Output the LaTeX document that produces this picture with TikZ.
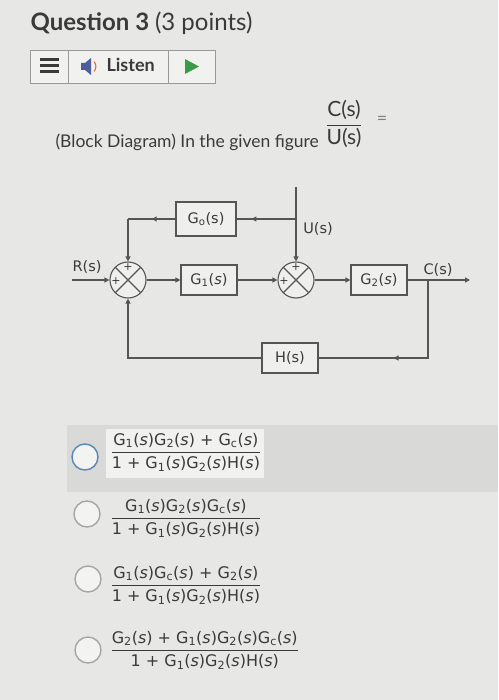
\documentclass[tikz,border=0pt]{standalone}
\usepackage{amsmath}
\usepackage{fontspec}
\setmainfont{Lato}
\newfontfamily\dejavu{DejaVu Sans}
\usetikzlibrary{arrows.meta,decorations.markings}
\definecolor{pagebg}{HTML}{E7E7E5}
\definecolor{bandcolor}{HTML}{D9D9D7}
\definecolor{inkcolor}{HTML}{3A3A3A}
\definecolor{linecolor}{HTML}{555555}
\definecolor{radioblue}{HTML}{5A86B8}
\definecolor{speakerblue}{HTML}{4F5C9E}
\definecolor{speakerorange}{HTML}{E0662A}
\definecolor{playgreen}{HTML}{3A9A48}
\newcommand{\Gs}[1]{G\textsubscript{#1}(\textit{s})}

\begin{document}
\begin{tikzpicture}[
    x=1pt, y=-1pt,
    line width=1.1pt,
    tip/.tip={Triangle[length=5pt,width=5pt]},
    sig/.style={draw=linecolor, -tip},
    wire/.style={draw=linecolor},
    midarrow/.style={postaction={decorate},
                     decoration={markings, mark=at position #1 with {\arrow{tip}}}},
    block/.style={rectangle, draw=linecolor, fill=white!35!pagebg,
                  minimum width=56pt, minimum height=30pt, inner sep=0pt,
                  font=\dejavu\fontsize{14.5}{16}\selectfont, text=inkcolor},
    sumnode/.style={circle, draw=linecolor, fill=white!35!pagebg,
                    minimum size=36pt, inner sep=0pt,
                    path picture={\draw[linecolor]
                        (path picture bounding box.north west) -- (path picture bounding box.south east)
                        (path picture bounding box.north east) -- (path picture bounding box.south west);}},
    sign/.style={font=\dejavu\fontsize{11}{11}\selectfont, text=inkcolor, inner sep=0pt,
                 fill=white!35!pagebg},
    siglabel/.style={font=\dejavu\fontsize{14.5}{16}\selectfont, text=inkcolor},
    radio/.style={circle, draw=gray!70, fill=white!50!pagebg, line width=1.4pt,
                  minimum size=26pt, inner sep=0pt},
    optfrac/.style={anchor=west, inner sep=0pt, text=inkcolor,
                    font=\dejavu\fontsize{16}{19}\selectfont}
]
% page and margins
\fill[pagebg] (0,0) rectangle (498,700);
\useasboundingbox (0,0) rectangle (498,700);

% heading and toolbar
\node[anchor=base west, inner sep=0pt, text=inkcolor] (title) at (30,31)
    {\fontsize{24}{28}\selectfont\bfseries Question 3 \mdseries(3 points)};
\draw[gray!80, line width=0.8pt, fill=white!40!pagebg] (30,50) rectangle (215,83);
\draw[gray!80, line width=0.8pt] (68,50) -- (68,83) (168,50) -- (168,83);
\foreach \yy in {60,66,72}
    \fill[inkcolor] (40,\yy-1.5) rectangle (59,\yy+1.5);
\fill[speakerblue] (81,63) -- (85,63) -- (91,58) -- (91,75) -- (85,70) -- (81,70) -- cycle;
\draw[speakerorange, line width=1pt] (94,61.5) to[bend left=40] (94,71.5);
\node[anchor=base west, inner sep=0pt, text=inkcolor] (listen) at (106,72)
    {\fontsize{18}{20}\selectfont\bfseries Listen};
\fill[playgreen] (185,59) -- (199,66.5) -- (185,74) -- cycle;

% question text
\node[anchor=base west, inner sep=0pt, text=inkcolor] (qtext) at (55,148)
    {\fontsize{17.5}{20}\selectfont (Block Diagram) In the given figure};
\node[inner sep=0pt, text=inkcolor] (ratio) at (344,124)
    {\fontsize{21}{24}\selectfont $\dfrac{\textrm{C(s)}}{\textrm{U(s)}}$};
\node[inner sep=0pt, text=gray] (equals) at (382,120) {\fontsize{18}{20}\selectfont =};

% block diagram
\node[sumnode] (sumA) at (128,280) {};
\node[sumnode] (sumB) at (296,280) {};
\node[sign] at (128,267) {+};
\node[sign] at (116,281) {+};
\node[sign] at (296,267) {+};
\node[sign] at (284,281) {+};
\node[block] (gone) at (209,280) {\Gs{1}};
\node[block] (gtwo) at (379,280) {\Gs{2}};
\node[block, minimum width=60pt, minimum height=34pt] (gzero) at (206,219) {G\textsubscript{o}(s)};
\node[block] (hblk) at (290,358) {H(s)};

\coordinate (rin) at (72,280);
\coordinate (uin) at (296,187);
\coordinate (utap) at (296,219);
\coordinate (gcorner) at (128,219);
\coordinate (ctap) at (428,280);
\coordinate (cout) at (470,280);
\coordinate (ccorner) at (428,358);
\coordinate (hcorner) at (128,358);

\draw[sig] (rin) -- (sumA);
\draw[sig] (sumA) -- (gone);
\draw[sig] (gone) -- (sumB);
\draw[sig] (sumB) -- (gtwo);
\draw[sig] (gtwo) -- (cout);
\draw[sig] (uin) -- (sumB);
\draw[wire, midarrow=0.75] (utap) -- (gzero);
\draw[wire, midarrow=0.5] (gzero) -- (gcorner);
\draw[sig] (gcorner) -- (sumA);
\draw[wire, midarrow=0.6] (ctap) -- (ccorner) -- (hblk);
\draw[sig] (hblk) -- (hcorner) -- (sumA);

\node[siglabel] (rlabel) at (87,267) {R(s)};
\node[siglabel] (ulabel) at (318,229) {U(s)};
\node[siglabel] (clabel) at (438,270) {C(s)};

% answer options
\fill[bandcolor] (67,425) rectangle (498,492);
\fill[white!40!pagebg] (106,429) rectangle (264,478);
\node[radio, draw=radioblue] (optA) at (85,457) {};
\node[radio] (optB) at (87,514) {};
\node[radio] (optC) at (88,579) {};
\node[radio] (optD) at (88,650) {};
\node[optfrac] (fracA) at (110,452)
    {$\dfrac{\text{\Gs{1}\Gs{2} + \Gs{c}}}{\text{1 + \Gs{1}\Gs{2}H(\textit{s})}}$};
\node[optfrac] (fracB) at (110,518)
    {$\dfrac{\text{\Gs{1}\Gs{2}\Gs{c}}}{\text{1 + \Gs{1}\Gs{2}H(\textit{s})}}$};
\node[optfrac] (fracC) at (110,585)
    {$\dfrac{\text{\Gs{1}\Gs{c} + \Gs{2}}}{\text{1 + \Gs{1}\Gs{2}H(\textit{s})}}$};
\node[optfrac] (fracD) at (110,650)
    {$\dfrac{\text{\Gs{2} + \Gs{1}\Gs{2}\Gs{c}}}{\text{1 + \Gs{1}\Gs{2}H(\textit{s})}}$};
\end{tikzpicture}
\end{document}
